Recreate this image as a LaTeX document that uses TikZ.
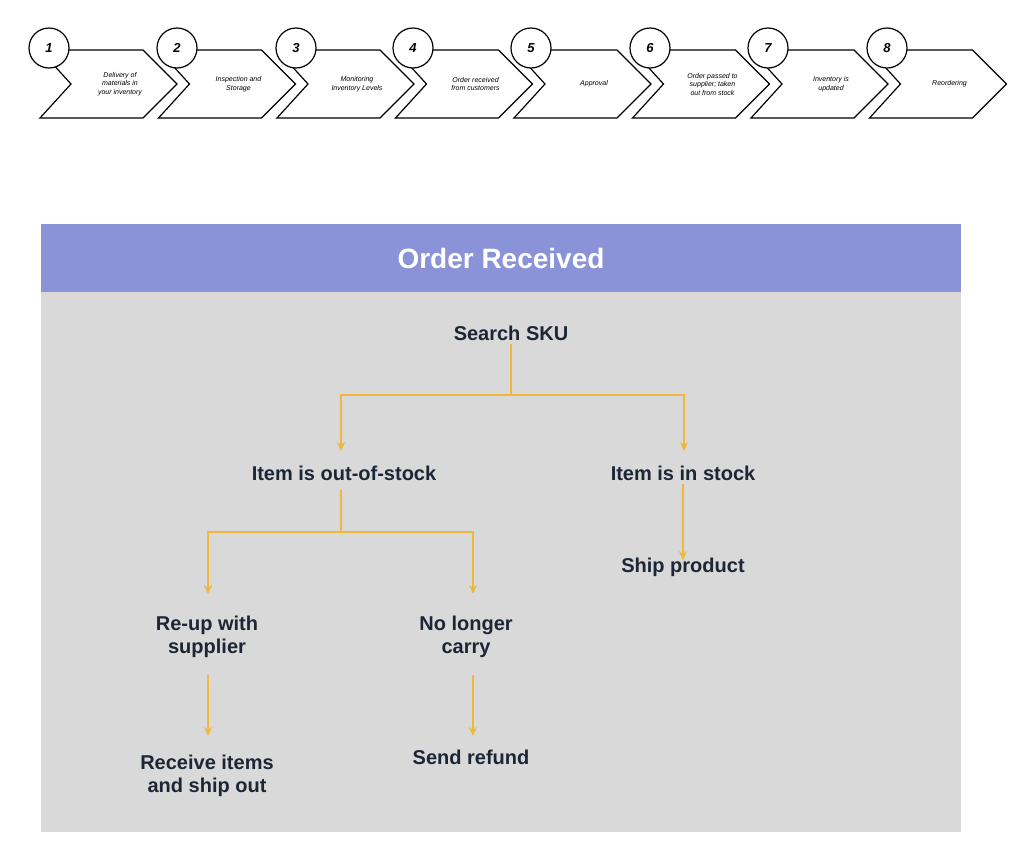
\documentclass[tikz,border=0pt]{standalone}
\usepackage{fontspec}
\setmainfont{Liberation Sans}
\usetikzlibrary{arrows.meta}
\definecolor{bandblue}{HTML}{8A93D8}
\definecolor{panelgray}{HTML}{D9D9D9}
\definecolor{inkblue}{HTML}{1C2634}
\definecolor{flowgold}{HTML}{F0B73A}
\begin{document}
\begin{tikzpicture}[x=1pt,y=-1pt,
                    stage/.style={font=\fontsize{7}{8.5}\selectfont\itshape,align=center},
                    num/.style={draw,circle,line width=1.2pt,fill=white,minimum size=40pt,
                                inner sep=0pt,font=\fontsize{13}{13}\selectfont\bfseries\itshape},
                    box/.style={font=\fontsize{20}{23}\selectfont\bfseries,text=inkblue,align=center},
                    flow/.style={draw=flowgold,line width=1.6pt,-{Stealth[length=9pt,width=8pt]}},
                    trunk/.style={draw=flowgold,line width=1.6pt}]
\useasboundingbox (0,0) rectangle (1022,857);
% process steps
\foreach \i/\t/\cx in {1/{Delivery of\\materials in\\your inventory}/49,
                       2/{Inspection and\\Storage}/177,
                       3/{Monitoring\\Inventory Levels}/296,
                       4/{Order received\\from customers}/413,
                       5/{Approval}/531,
                       6/{Order passed to\\supplier; taken\\out from stock}/650,
                       7/{Inventory is\\updated}/768,
                       8/{Reordering}/887}{
  \pgfmathsetmacro{\xl}{40+(\i-1)*118.5}
  \draw[line width=1.2pt,fill=white] (\xl,50) -- ++(103,0) -- ++(34,34) -- ++(-34,34)
        -- ++(-103,0) -- ++(31,-34) -- cycle;
  \node[stage] (s\i) at (\xl+80,84) {\t};
  \node[num] (n\i) at (\cx,48) {\i};
}
% order panel
\fill[panelgray] (41,292) rectangle (961,832);
\fill[bandblue] (41,224) rectangle (961,292);
\node[font=\fontsize{28}{30}\selectfont\bfseries,text=white] (title) at (501,258) {Order Received};
\node[box] (sku) at (511,333) {Search SKU};
\node[box] (out) at (344,473) {Item is out-of-stock};
\node[box] (in) at (683,473) {Item is in stock};
\node[box] (ship) at (683,567) {Ship product};
\node[box] (reup) at (207,637) {Re-up with\\supplier};
\node[box] (carry) at (466,637) {No longer\\carry};
\node[box] (recv) at (207,776) {Receive items\\and ship out};
\node[box] (refund) at (471,757) {Send refund};
\coordinate (k1) at (511,395);
\coordinate (k2) at (341,532);
\coordinate (outtop) at (341,451);
\coordinate (intop) at (684,451);
\coordinate (reuptop) at (208,594);
\coordinate (carrytop) at (473,594);
\coordinate (outbot) at (341,490);
\coordinate (reupbot) at (208,675);
\coordinate (carrybot) at (473,675);
\coordinate (recvtop) at (208,736);
\coordinate (refundtop) at (473,736);
\draw[trunk] (sku.south) -- (k1);
\draw[flow] (k1) -| (outtop);
\draw[flow] (k1) -| (intop);
\draw[trunk] (outbot) -- (k2);
\draw[flow] (k2) -| (reuptop);
\draw[flow] (k2) -| (carrytop);
\draw[flow] (in.south) -- ([yshift=-6pt]ship.north);
\draw[flow] (reupbot) -- (recvtop);
\draw[flow] (carrybot) -- (refundtop);
\end{tikzpicture}
\end{document}
